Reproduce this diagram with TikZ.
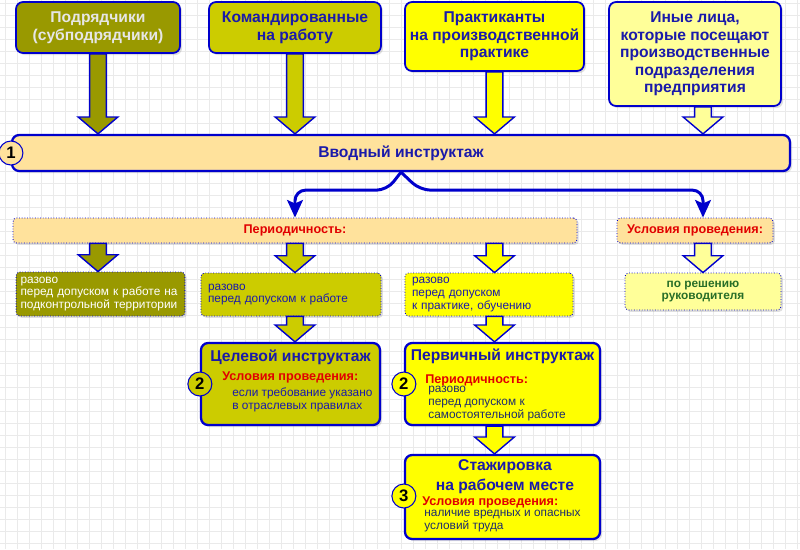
\documentclass[tikz,border=0pt]{standalone}
\usepackage{fontspec}
\setmainfont{Liberation Sans}
\usetikzlibrary{calc,shadows,arrows.meta}

\definecolor{olivebox}{RGB}{153,153,0}
\definecolor{limebox}{RGB}{204,204,0}
\definecolor{yellowbox}{RGB}{255,255,0}
\definecolor{paleyellow}{RGB}{255,255,153}
\definecolor{peach}{RGB}{255,226,156}
\definecolor{edgeblue}{RGB}{0,0,204}
\definecolor{titleblue}{RGB}{26,26,170}
\definecolor{noteblue}{RGB}{30,45,110}
\definecolor{labelred}{RGB}{225,0,0}
\definecolor{notegreen}{RGB}{40,110,40}
\definecolor{lightgrey}{RGB}{230,230,230}
\definecolor{gridgray}{RGB}{234,234,234}

\newcommand{\headfont}{\bfseries\fontsize{8.9}{10}\selectfont}
\newcommand{\labelfont}{\bfseries\fontsize{7.2}{8.5}\selectfont}
\newcommand{\notefont}{\fontsize{6.75}{7.3}\selectfont}

\tikzset{
  gridline/.style={gridgray, line width=0.4pt},
  headbox/.style={draw=edgeblue, line width=1pt, rounded corners=4pt, align=center,
    font=\headfont, text=titleblue, inner sep=2pt,
    drop shadow={shadow xshift=1.2pt, shadow yshift=-1.2pt, opacity=0.25}},
  notebox/.style={draw=edgeblue, densely dotted, line width=0.5pt, rounded corners=2pt,
    font=\notefont, inner xsep=4pt, inner ysep=2pt,
    drop shadow={shadow xshift=1pt, shadow yshift=-1pt, opacity=0.25}},
  numcircle/.style={circle, draw=edgeblue, line width=0.6pt, minimum size=0.48cm,
    inner sep=0pt, font=\bfseries\fontsize{9.5}{9.5}\selectfont},
  fatline/.style={draw=edgeblue, line width=0.8pt, line join=miter},
  flowline/.style={edgeblue, line width=1.7pt, rounded corners=6pt,
    -{Stealth[length=10pt, width=9pt, inset=2pt]}}
}

% block arrow: from, to, fill
\newcommand{\fatarrow}[3]{%
  \draw[fatline, fill=#3] let \p1=(#1), \p2=(#2) in
    (\x1-4.8pt,\y1) -- (\x1-4.8pt,\y2+9.6pt) -- (\x1-11.3pt,\y2+9.6pt) -- (\x1,\y2)
    -- (\x1+11.3pt,\y2+9.6pt) -- (\x1+4.8pt,\y2+9.6pt) -- (\x1+4.8pt,\y1) -- cycle;}

\begin{document}
\begin{tikzpicture}[x=0.02cm, y=-0.02cm]
  \fill[white] (0,0) rectangle (800,549);
  \useasboundingbox (0,0) rectangle (800,549);

  % grid
  \foreach \gx in {5,17,...,797} \draw[gridline] (\gx,0) -- (\gx,549);
  \foreach \gy in {3,15,...,543} \draw[gridline] (0,\gy) -- (800,\gy);

  % who
  \node[headbox, fill=olivebox, text=lightgrey, minimum width=3.28cm, minimum height=1.02cm]
    (podr) at (98,27.5) {Подрядчики\\(субподрядчики)};
  \node[headbox, fill=limebox, minimum width=3.44cm, minimum height=1.02cm]
    (kom) at (295,27.5) {Командированные\\на работу};
  \node[headbox, fill=yellowbox, minimum width=3.58cm, minimum height=1.38cm]
    (prak) at (494.5,36.5) {Практиканты\\на производственной\\практике};
  \node[headbox, fill=paleyellow, minimum width=3.44cm, minimum height=2.08cm]
    (inye) at (695,54) {Иные лица,\\которые посещают\\производственные\\подразделения\\предприятия};
  \coordinate (rcol) at (703,0);

  % main bar
  \node[headbox, fill=peach, line width=1.3pt, minimum width=15.56cm, minimum height=0.72cm]
    (intro) at (401,153) {Вводный инструктаж};
  \node[numcircle, fill=peach] (n1) at (intro.west) {1};

  \fatarrow{podr.south}{podr.south |- intro.north}{olivebox}
  \fatarrow{kom.south}{kom.south |- intro.north}{limebox}
  \fatarrow{prak.south}{prak.south |- intro.north}{yellowbox}
  \fatarrow{rcol |- inye.south}{rcol |- intro.north}{paleyellow}

  % periodicity / conditions
  \node[notebox, fill=peach, font=\labelfont, text=labelred, minimum width=11.28cm, minimum height=0.5cm]
    (period) at (295,230.5) {Периодичность:};
  \node[notebox, fill=peach, font=\labelfont, text=labelred, minimum width=3.12cm, minimum height=0.5cm]
    (cond) at (695,230.5) {Условия проведения:};

  \draw[flowline] (intro.south) -- ++(-14,18) -| (period.north);
  \draw[flowline] (intro.south) -- ++(19,18) -| (rcol |- cond.north);

  \node[notebox, fill=olivebox, text=white, inner xsep=2.5pt, text width=3.2cm, align=left, minimum height=0.88cm]
    (rowa) at (100.5,294) {разово\\перед допуском к работе на\\подконтрольной территории};
  \node[notebox, fill=limebox, text=titleblue, text width=3.32cm, align=left, minimum height=0.86cm]
    (rowb) at (291,294.5) {разово\\перед допуском к работе};
  \node[notebox, fill=yellowbox, text=titleblue, text width=3.08cm, align=left, minimum height=0.86cm]
    (rowc) at (489,294.5) {разово\\перед допуском\\к практике, обучению};
  \node[notebox, fill=paleyellow, text=notegreen, font=\bfseries\notefont, align=center,
    minimum width=3.12cm, minimum height=0.74cm]
    (rowd) at (703,291.5) {по решению\\руководителя};

  \fatarrow{podr.south |- period.south}{podr.south |- rowa.north}{olivebox}
  \fatarrow{kom.south |- period.south}{kom.south |- rowb.north}{limebox}
  \fatarrow{prak.south |- period.south}{prak.south |- rowc.north}{yellowbox}
  \fatarrow{rcol |- cond.south}{rcol |- rowd.north}{paleyellow}

  % briefings
  \node[headbox, fill=limebox, line width=1.3pt, minimum width=3.58cm, minimum height=1.64cm]
    (celev) at (290.5,384) {};
  \node[font=\headfont, text=titleblue] (celevtitle) at (290.5,357) {Целевой инструктаж};
  \node[font=\labelfont, text=labelred, anchor=west, inner sep=0pt] (celevlabel) at (222,377) {Условия проведения:};
  \node[font=\notefont, text=titleblue, anchor=west, align=left, inner sep=0pt]
    (celevnote) at (232,400) {если требование указано\\в отраслевых правилах};
  \node[numcircle, fill=limebox] (n2a) at (celev.west) {2};

  \node[headbox, fill=yellowbox, line width=1.3pt, minimum width=3.9cm, minimum height=1.64cm]
    (perv) at (502.5,384) {};
  \node[font=\headfont, text=titleblue] (pervtitle) at (502.5,356) {Первичный инструктаж};
  \node[font=\labelfont, text=labelred, anchor=west, inner sep=0pt] (pervlabel) at (425,380) {Периодичность:};
  \node[font=\notefont, text=noteblue, anchor=west, align=left, inner sep=0pt]
    (pervnote) at (428,403.5) {разово\\перед допуском к\\самостоятельной работе};
  \node[numcircle, fill=yellowbox] (n2b) at (perv.west) {2};

  \node[headbox, fill=yellowbox, line width=1.3pt, minimum width=3.9cm, minimum height=1.68cm]
    (stazh) at (502.5,497) {};
  \node[font=\headfont, text=titleblue, align=center, inner sep=0pt] (stazhtitle) at (505,477)
    {Стажировка\\[1.3pt]на рабочем месте};
  \node[font=\labelfont, text=labelred, anchor=west, inner sep=0pt] (stazhlabel) at (422,502) {Условия проведения:};
  \node[font=\notefont, text=noteblue, anchor=west, align=left, inner sep=0pt]
    (stazhnote) at (424,521) {наличие вредных и опасных\\условий труда};
  \node[numcircle, fill=yellowbox] (n3) at (stazh.west |- 0,496) {3};

  \fatarrow{kom.south |- rowb.south}{kom.south |- celev.north}{limebox}
  \fatarrow{prak.south |- rowc.south}{prak.south |- perv.north}{yellowbox}
  \fatarrow{prak.south |- perv.south}{prak.south |- stazh.north}{yellowbox}
\end{tikzpicture}
\end{document}
